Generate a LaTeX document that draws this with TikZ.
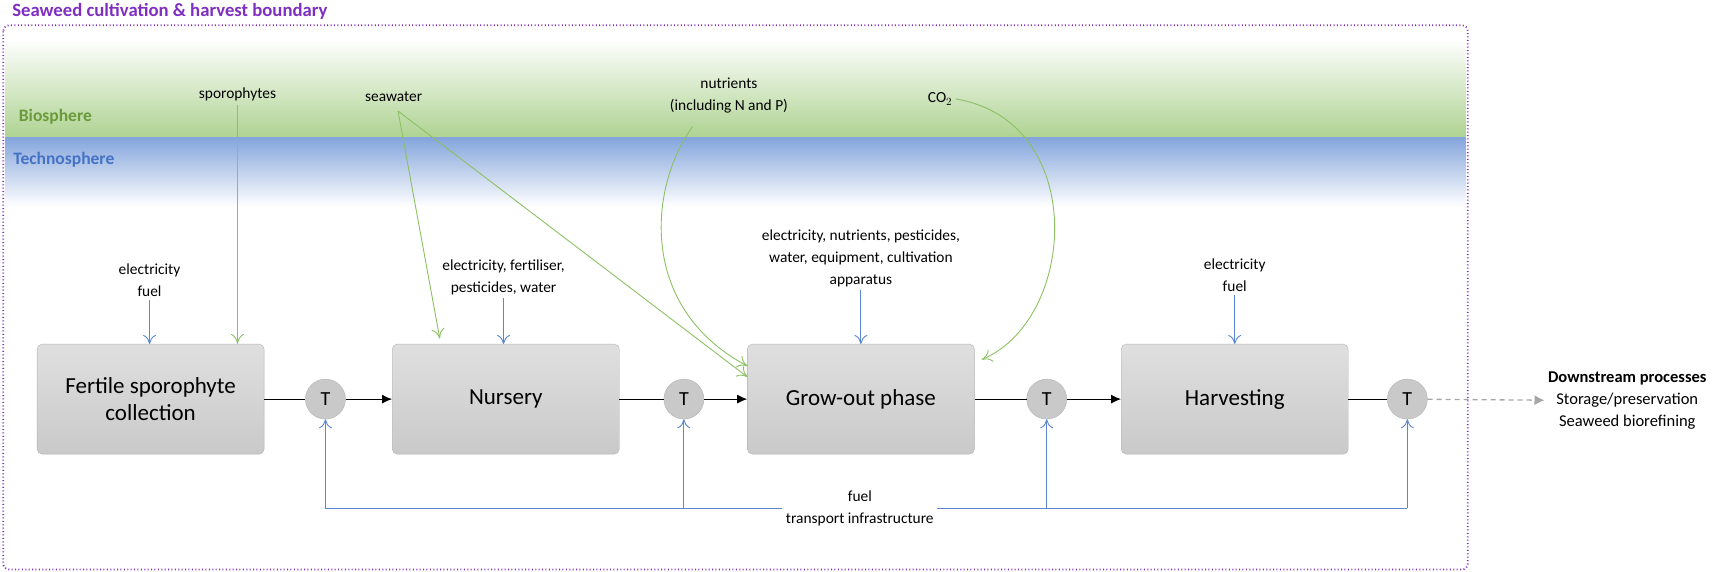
\documentclass[tikz,border=0pt]{standalone}
\usepackage{fontspec}
\setmainfont{Carlito}
\usetikzlibrary{arrows.meta,positioning}
\definecolor{bpurple}{HTML}{7F2FBF}
\definecolor{bgreen}{HTML}{6A9A3A}
\definecolor{bblue}{HTML}{4472C4}
\definecolor{lgreen}{HTML}{8CC063}
\definecolor{lblue}{HTML}{5B87D0}
\tikzset{
  stage/.style={draw=gray!60, rounded corners=5pt, top color=gray!25, bottom color=gray!42,
    minimum width=227pt, minimum height=110pt, align=center, font=\fontsize{23}{27}\selectfont},
  tnode/.style={circle, draw=gray!60, fill=gray!42, minimum size=40pt, inner sep=0pt,
    font=\fontsize{20}{22}\selectfont},
  small/.style={align=center, font=\fontsize{15.4}{22}\selectfont},
  flow/.style={-{Latex[length=10pt,width=9pt]}, line width=1pt},
  tin/.style={-{To[length=9pt,width=13pt]}, lblue, line width=0.9pt},
  bin/.style={-{To[length=10pt,width=13pt]}, lgreen, line width=0.9pt}
}
\begin{document}
\begin{tikzpicture}[x=1.0995pt, y=-1.0995pt]
    \useasboundingbox (0,0) rectangle (1568,520.2);
    % bands
    \shade[top color=white, bottom color=lgreen!70] (5,35) rectangle (1333,125);
    \shade[top color=lblue!75, bottom color=white] (5,125) rectangle (1333,188);
    \node[anchor=west, text=bpurple, font=\fontsize{18.7}{22}\selectfont\bfseries] (title) at (8,10)
        {Seaweed cultivation \& harvest boundary};
    \draw[bpurple, line width=1.8pt, dash pattern=on 1pt off 2.4pt, rounded corners=6pt]
        (3,23) rectangle (1335,518);
    \node[anchor=west, text=bgreen, font=\fontsize{17.5}{20}\selectfont\bfseries] (bio) at (14,106) {Biosphere};
    \node[anchor=west, text=bblue, font=\fontsize{17.5}{20}\selectfont\bfseries] (techno) at (9,145) {Technosphere};
    % stages
    \node[stage] (fertile) at (137,363) {Fertile sporophyte\\collection};
    \node[stage] (nursery) at (460,363) {Nursery};
    \node[stage] (growout) at (783,363) {Grow-out phase};
    \node[stage] (harvest) at (1123,363) {Harvesting};
    \node[tnode] (t1) at (296,363) {T};
    \node[tnode] (t2) at (622,363) {T};
    \node[tnode] (t3) at (952,363) {T};
    \node[tnode] (t4) at (1280,363) {T};
    \draw[line width=1pt] (fertile) -- (t1);
    \draw[flow] (t1) -- (nursery);
    \draw[line width=1pt] (nursery) -- (t2);
    \draw[flow] (t2) -- (growout);
    \draw[line width=1pt] (growout) -- (t3);
    \draw[flow] (t3) -- (harvest);
    \draw[line width=1pt] (harvest) -- (t4);
    % downstream
    \node[align=center, font=\fontsize{16.5}{22}\selectfont] (down) at (1480,364)
        {\textbf{Downstream processes}\\Storage/preservation\\Seaweed biorefining};
    \draw[-{Latex[length=10pt,width=10pt]}, gray!70, line width=1.3pt, dash pattern=on 5pt off 4pt]
        (t4) -- (down.west);
    % technosphere inputs
    \node[small] (in1) at (136,255) {electricity\\fuel};
    \node[small] (in2) at (458,252) {electricity, fertiliser,\\pesticides, water};
    \node[small] (in3) at (783,235) {electricity, nutrients, pesticides,\\water, equipment, cultivation\\apparatus};
    \node[small] (in4) at (1123,250) {electricity\\fuel};
    \draw[tin] (in1) -- (in1 |- fertile.north);
    \draw[tin] (in2) -- (in2 |- nursery.north);
    \draw[tin] (in3) -- (in3 |- growout.north);
    \draw[tin] (in4) -- (in4 |- harvest.north);
    % transport
    \node[small] (trans) at (782,462) {fuel\\transport infrastructure};
    \coordinate (c1) at (296,462);
    \coordinate (c2) at (622,462);
    \coordinate (c3) at (952,462);
    \coordinate (c4) at (1280,462);
    \draw[lblue, line width=0.9pt] (trans.west) -- (c2) -- (c1);
    \draw[lblue, line width=0.9pt] (trans.east) -- (c3) -- (c4);
    \draw[tin] (c1) -- (t1);
    \draw[tin] (c2) -- (t2);
    \draw[tin] (c3) -- (t3);
    \draw[tin] (c4) -- (t4);
    % biosphere inputs
    \node[small] (spor) at (216,86) {sporophytes};
    \node[small] (sea) at (358,88) {seawater};
    \node[small] (nutr) at (663,87) {nutrients\\(including N and P)};
    \node[small] (co2) at (855,90) {CO$_2$};
    \draw[bin] (spor.south) -- (spor.south |- fertile.north);
    \coordinate (seaout) at (362,101);
    \draw[bin] (seaout) -- (400,308);
    \draw[bin] (seaout) -- (680,343);
    \draw[bin] (630,115) .. controls (590,170) and (580,280) .. (680,333);
    \draw[bin] (co2.east) .. controls (990,110) and (980,290) .. (893,327);
\end{tikzpicture}
\end{document}
